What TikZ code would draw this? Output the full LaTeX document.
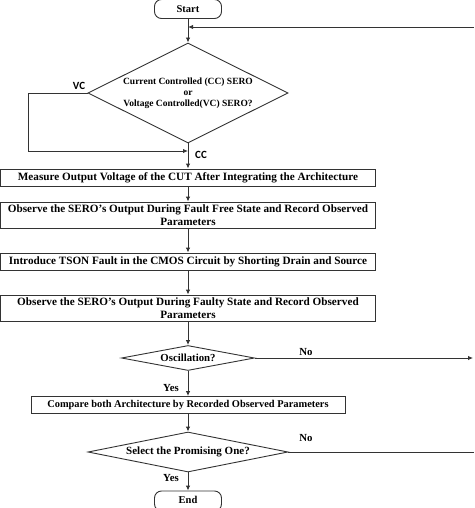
\documentclass[tikz,border=0pt]{standalone}
\usepackage{fontspec}
\setmainfont{Liberation Serif}
\newfontfamily\lblfont{Carlito}
\usetikzlibrary{shapes.geometric,arrows.meta}
\tikzset{
  ln/.style={draw=black!80, line width=0.9pt},
  arr/.style={ln, -{Latex[length=5pt,width=4.5pt]}},
  procbox/.style={ln, rectangle, inner sep=1pt, font=\bfseries\fontsize{11.2}{13}\selectfont, align=flush center},
  termbox/.style={ln, rectangle, rounded corners=7pt, minimum width=67pt, minimum height=19pt, inner sep=0pt, font=\bfseries\fontsize{10.5}{12}\selectfont},
  decbox/.style={ln, diamond, inner sep=0pt, align=center},
  lbl/.style={font=\bfseries\fontsize{10.8}{12}\selectfont, inner sep=0pt},
  vclbl/.style={font=\lblfont\bfseries\fontsize{11}{12}\selectfont, inner sep=0pt}
}
\begin{document}
\begin{tikzpicture}[x=1pt,y=-1pt]
\useasboundingbox (0,0) rectangle (474,508);
\node[termbox] (start) at (188,9) {Start};
\node[decbox, shape aspect=2, minimum width=200pt, minimum height=100pt, font=\bfseries\fontsize{9.5}{11}\selectfont] (d1) at (188,93) {Current Controlled (CC) SERO\\or\\Voltage Controlled(VC) SERO?};
\node[procbox, minimum width=375pt, minimum height=17pt] (b1) at (188,177.5) {Measure Output Voltage of the CUT After Integrating the Architecture};
\node[procbox, minimum width=375pt, minimum height=26pt, text width=370pt] (b2) at (188,215) {Observe the SERO’s Output During Fault Free State and Record Observed Parameters};
\node[procbox, minimum width=375pt, minimum height=17pt] (b3) at (188,261.5) {Introduce TSON Fault in the CMOS Circuit by Shorting Drain and Source};
\node[procbox, minimum width=375pt, minimum height=26pt, text width=350pt] (b4) at (188,308) {Observe the SERO’s Output During Faulty State and Record Observed Parameters};
\node[decbox, shape aspect=5.3, minimum width=133pt, minimum height=25pt, font=\bfseries\fontsize{10.8}{12}\selectfont] (d2) at (188,358) {Oscillation?};
\node[procbox, minimum width=314pt, minimum height=17pt, font=\bfseries\fontsize{10.4}{12}\selectfont] (b5) at (188,405) {Compare both Architecture by Recorded Observed Parameters};
\node[decbox, shape aspect=5, minimum width=200pt, minimum height=40pt, font=\bfseries\fontsize{11}{12}\selectfont] (d3) at (188,452) {Select the Promising One?};
\node[termbox, minimum height=20pt] (end) at (188,501) {\raisebox{1.5pt}{End}};

\coordinate (fbR) at (474,27);
\coordinate (fbJ) at (188,27);
\coordinate (vcA) at (28,93);
\coordinate (vcB) at (28,151);
\coordinate (ccJ) at (188,151);
\coordinate (noA) at (473,358);
\coordinate (noB) at (474,452);

\draw[arr] (start) -- (d1);
\draw[arr] (fbR) -- (fbJ);
\draw[arr] (d1.west) -- (vcA) -- (vcB) -- (ccJ);
\draw[arr] (d1) -- (b1);
\draw[arr] (b1) -- (b2);
\draw[arr] (b2) -- (b3);
\draw[arr] (b3) -- (b4);
\draw[arr] (b4) -- (d2);
\draw[arr] (d2) -- (b5);
\draw[arr] (b5) -- (d3);
\draw[arr] (d3) -- (end);
\draw[arr] (d2.east) -- (noA);
\draw[ln] (d3.east) -- (noB);

\node[vclbl] (vc) at (79,86) {VC};
\node[vclbl] (cc) at (201,155) {CC};
\node[lbl] (no1) at (306,352) {No};
\node[lbl] (no2) at (306,438) {No};
\node[lbl] (yes1) at (171,388) {Yes};
\node[lbl] (yes2) at (171,478) {Yes};
\end{tikzpicture}
\end{document}
